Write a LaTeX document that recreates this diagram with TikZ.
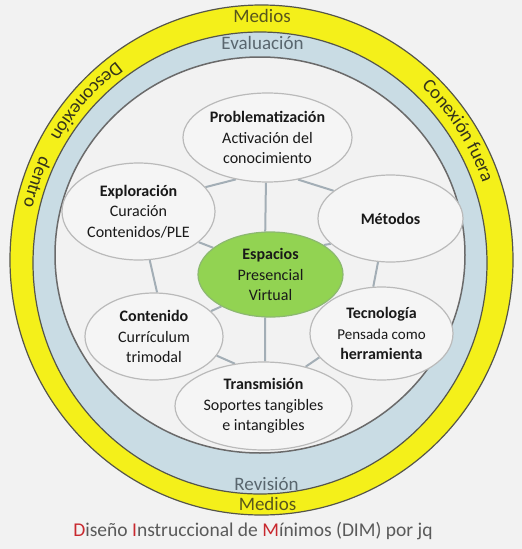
\documentclass[tikz,border=0pt]{standalone}
\usepackage{fontspec}
\setmainfont{Carlito}
\usetikzlibrary{shapes.geometric,decorations.text,calc}
\definecolor{bgc}{HTML}{F2F2F2}
\definecolor{ylw}{HTML}{F4F01A}
\definecolor{bluegray}{HTML}{C9DCE4}
\definecolor{ringline}{HTML}{55554A}
\definecolor{innerline}{HTML}{6A6A6A}
\definecolor{bubline}{HTML}{BABABA}
\definecolor{bubfill}{HTML}{F5F5F5}
\definecolor{linkc}{HTML}{A3AEB6}
\definecolor{grn}{HTML}{92D352}
\definecolor{grnline}{HTML}{8CB870}
\definecolor{olivetxt}{HTML}{58561C}
\definecolor{evaltxt}{HTML}{59666E}
\definecolor{ringtxt}{HTML}{35341A}
\definecolor{titlegray}{HTML}{5A5A5A}
\definecolor{titlered}{HTML}{C8282E}
\newcommand\ringfont{\fontsize{19}{19}\selectfont}
\newcommand\arcfont{\fontsize{19}{19}\selectfont\color{ringtxt}}
\pgfdeclarelayer{rings}
\pgfdeclarelayer{links}
\pgfsetlayers{rings,links,main}
\tikzset{
  bub/.style={ellipse, draw=bubline, line width=1.2pt, fill=bubfill, inner sep=0pt,
    align=center, text=black!90, font=\fontsize{16}{20.5}\selectfont},
  hub/.style={bub, fill=grn, draw=grnline},
  link/.style={draw=linkc, line width=2pt},
  ringlabel/.style={anchor=base, inner sep=0pt, font=\ringfont},
  arclabel/.style={decorate, decoration={text along path, text align=center, raise=-4.5pt}}
}
\begin{document}
\begin{tikzpicture}[x=1pt,y=-1pt]
\useasboundingbox (0,0) rectangle (522,549);
\begin{pgfonlayer}{rings}
\fill[bgc] (0,0) rectangle (522,549);
\filldraw[fill=ylw, draw=ringline, line width=1.2pt] (261.5,260) ellipse [x radius=251.5, y radius=255];
\filldraw[fill=bluegray, draw=ringline, line width=1.2pt] (260,263) ellipse [x radius=227, y radius=231];
\filldraw[fill=bgc, draw=innerline, line width=1.5pt] (260,255) ellipse [x radius=205, y radius=198];
\path[arclabel, decoration={text={|\arcfont|Desconexión}}] ($(261,261)+(-108:239 and 243)$) arc[start angle=-108, end angle=-168, x radius=239, y radius=243];
\path[arclabel, decoration={text={|\arcfont|dentro}}] ($(261,261)+(-141:239 and 243)$) arc[start angle=-141, end angle=-181, x radius=239, y radius=243];
\path[arclabel, decoration={text={|\arcfont|Conexión fuera}}] ($(261,261)+(-63:239 and 243)$) arc[start angle=-63, end angle=-3, x radius=239, y radius=243];
\end{pgfonlayer}

\node[ringlabel, text=olivetxt] (medtop) at (262,22) {Medios};
\node[ringlabel, text=evaltxt] (eval) at (262.5,49.5) {Evaluación};
\node[ringlabel, text=evaltxt] (rev) at (266.5,490) {Revisión};
\node[ringlabel, text=olivetxt] (medbot) at (267.5,510.5) {Medios};

\node[bub, minimum width=169, minimum height=89] (prob) at (267.5,137.5)
  {\textbf{Problematización}\\Activación del\\conocimiento};
\node[bub, minimum width=153, minimum height=97] (expl) at (138.5,211.5)
  {\textbf{Exploración}\\Curación\\Contenidos/PLE};
\node[bub, minimum width=145, minimum height=87] (met) at (390.5,218.5)
  {\textbf{Métodos}};
\node[hub, minimum width=145, minimum height=85] (esp) at (270.5,274.5)
  {\textbf{Espacios}\\Presencial\\Virtual};
\node[bub, minimum width=138, minimum height=87] (cont) at (154,336.5)
  {\textbf{Contenido}\\Currículum\\trimodal};
\node[bub, minimum width=143, minimum height=93] (tec) at (381.5,333.5)
  {\textbf{Tecnología}\\{\fontsize{15}{20.5}\selectfont Pensada como}\\\textbf{herramienta}};
\node[bub, minimum width=177, minimum height=88] (trans) at (263.5,406)
  {\textbf{Transmisión}\\Soportes tangibles\\e intangibles};

\begin{pgfonlayer}{links}
\draw[link] (prob.233) -- (expl.20);
\draw[link] (prob.306) -- (met.154);
\draw[link] (prob.268) -- (esp.97);
\draw[link] (expl.333) -- (esp.155);
\draw[link] (met.203) -- (esp.29);
\draw[link] (expl.283) -- (cont.86);
\draw[link] (met.254) -- (tec.100);
\draw[link] (cont.24) -- (esp.213);
\draw[link] (cont.343) -- (trans.124);
\draw[link] (tec.201) -- (trans.43);
\draw[link] (esp.263) -- (trans.88);
\end{pgfonlayer}

\node[anchor=base, inner sep=0pt, font=\fontsize{19.5}{19.5}\selectfont, text=titlegray] (title) at (253,536.5)
  {\textcolor{titlered}{D}iseño \textcolor{titlered}{I}nstruccional de \textcolor{titlered}{M}ínimos (DIM) por jq};
\end{tikzpicture}
\end{document}
